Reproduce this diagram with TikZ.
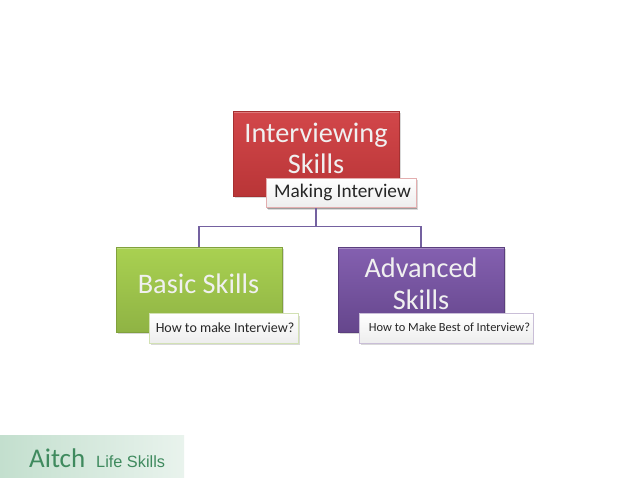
\documentclass[tikz,border=0pt]{standalone}
\usepackage{fontspec}
\setmainfont{Carlito}
\newfontfamily\arialfont{Liberation Sans}
\usetikzlibrary{shadows,calc}
\definecolor{linkpurple}{HTML}{7461A0}
\definecolor{redtop}{HTML}{D2474A}
\definecolor{redbot}{HTML}{B93537}
\definecolor{greentop}{HTML}{A9D151}
\definecolor{greenbot}{HTML}{8FB344}
\definecolor{purpletop}{HTML}{8460B0}
\definecolor{purplebot}{HTML}{65468C}
\definecolor{footl}{HTML}{C3DFCE}
\definecolor{footr}{HTML}{E9F3ED}
\definecolor{footink}{HTML}{3F8A5E}
\tikzset{
  x=1pt,y=-1pt,
  softshadow/.style={
    drop shadow={shadow xshift=.5pt,shadow yshift=-1pt,opacity=.28,fill=black},
    drop shadow={shadow xshift=1.5pt,shadow yshift=-2pt,opacity=.15,fill=black}},
  mainbox/.style={anchor=north west,inner sep=0pt,minimum width=166pt,minimum height=85pt,
    line width=.4pt,softshadow,
    path picture={\fill[white,opacity=.28] (path picture bounding box.north west) rectangle ([yshift=-2.2pt]path picture bounding box.north east);}},
  boxtext/.style={inner sep=0pt,align=center,text=white!94!black,font=\fontsize{28.3}{31.5}\selectfont},
  tagbox/.style={anchor=north west,inner sep=0pt,minimum height=29.5pt,
    top color=white,bottom color=white!93!black,line width=.7pt,softshadow},
  tagtext/.style={inner sep=0pt,text=black!85},
  link/.style={draw=linkpurple,line width=1.6pt},
}
\begin{document}
\begin{tikzpicture}
\useasboundingbox (0,0) rectangle (638,478);
\fill[white] (0,0) rectangle (638,478);
% footer
\node[anchor=north west,inner sep=0pt,minimum width=184pt,minimum height=43pt,left color=footl,right color=footr] (footer) at (0,435) {};
\node[anchor=base west,inner sep=0pt,text=footink,font=\fontsize{27}{30}\selectfont] (aitch) at (29,468) {Aitch};
\node[anchor=base west,inner sep=0pt,text=footink,font=\arialfont\fontsize{16.3}{18}\selectfont] (life) at (96,468) {Life Skills};
% connectors
\coordinate (bus) at (316,226.5);
% main boxes
\node[mainbox,draw=redbot!90!black,top color=redtop,bottom color=redbot] (red) at (233,111) {};
\node[boxtext] (redtext) at (316,148.5) {Interviewing\\Skills};
\node[mainbox,draw=greenbot!90!black,top color=greentop,bottom color=greenbot] (green) at (116,247) {};
\node[boxtext] (greentext) at (198.5,284) {Basic Skills};
\node[mainbox,draw=purplebot!90!black,top color=purpletop,bottom color=purplebot] (purple) at (338,247) {};
\node[boxtext] (purpletext) at (421,284) {Advanced\\Skills};
% tags
\node[tagbox,draw=redbot!40!white,minimum width=150pt] (redtag) at (266,178) {};
\node[tagtext,font=\fontsize{19.3}{22}\selectfont] (redtagtext) at (342.5,192.5) {Making Interview};
\node[tagbox,draw=greenbot!40!white,minimum width=149pt] (greentag) at (149,313.5) {};
\node[tagtext,font=\fontsize{14}{17}\selectfont] (greentagtext) at (225,327.5) {How to make Interview?};
\node[tagbox,draw=purplebot!35!white,minimum width=173.5pt] (purpletag) at (359,313.5) {};
\node[tagtext,font=\fontsize{12.4}{15}\selectfont] (purpletagtext) at (449.5,327.5) {How to Make Best of Interview?};
% connectors
\draw[link] (redtag.south -| bus) -- (bus);
\draw[link] (green.north) |- (bus) -| (purple.north);
\end{tikzpicture}
\end{document}
